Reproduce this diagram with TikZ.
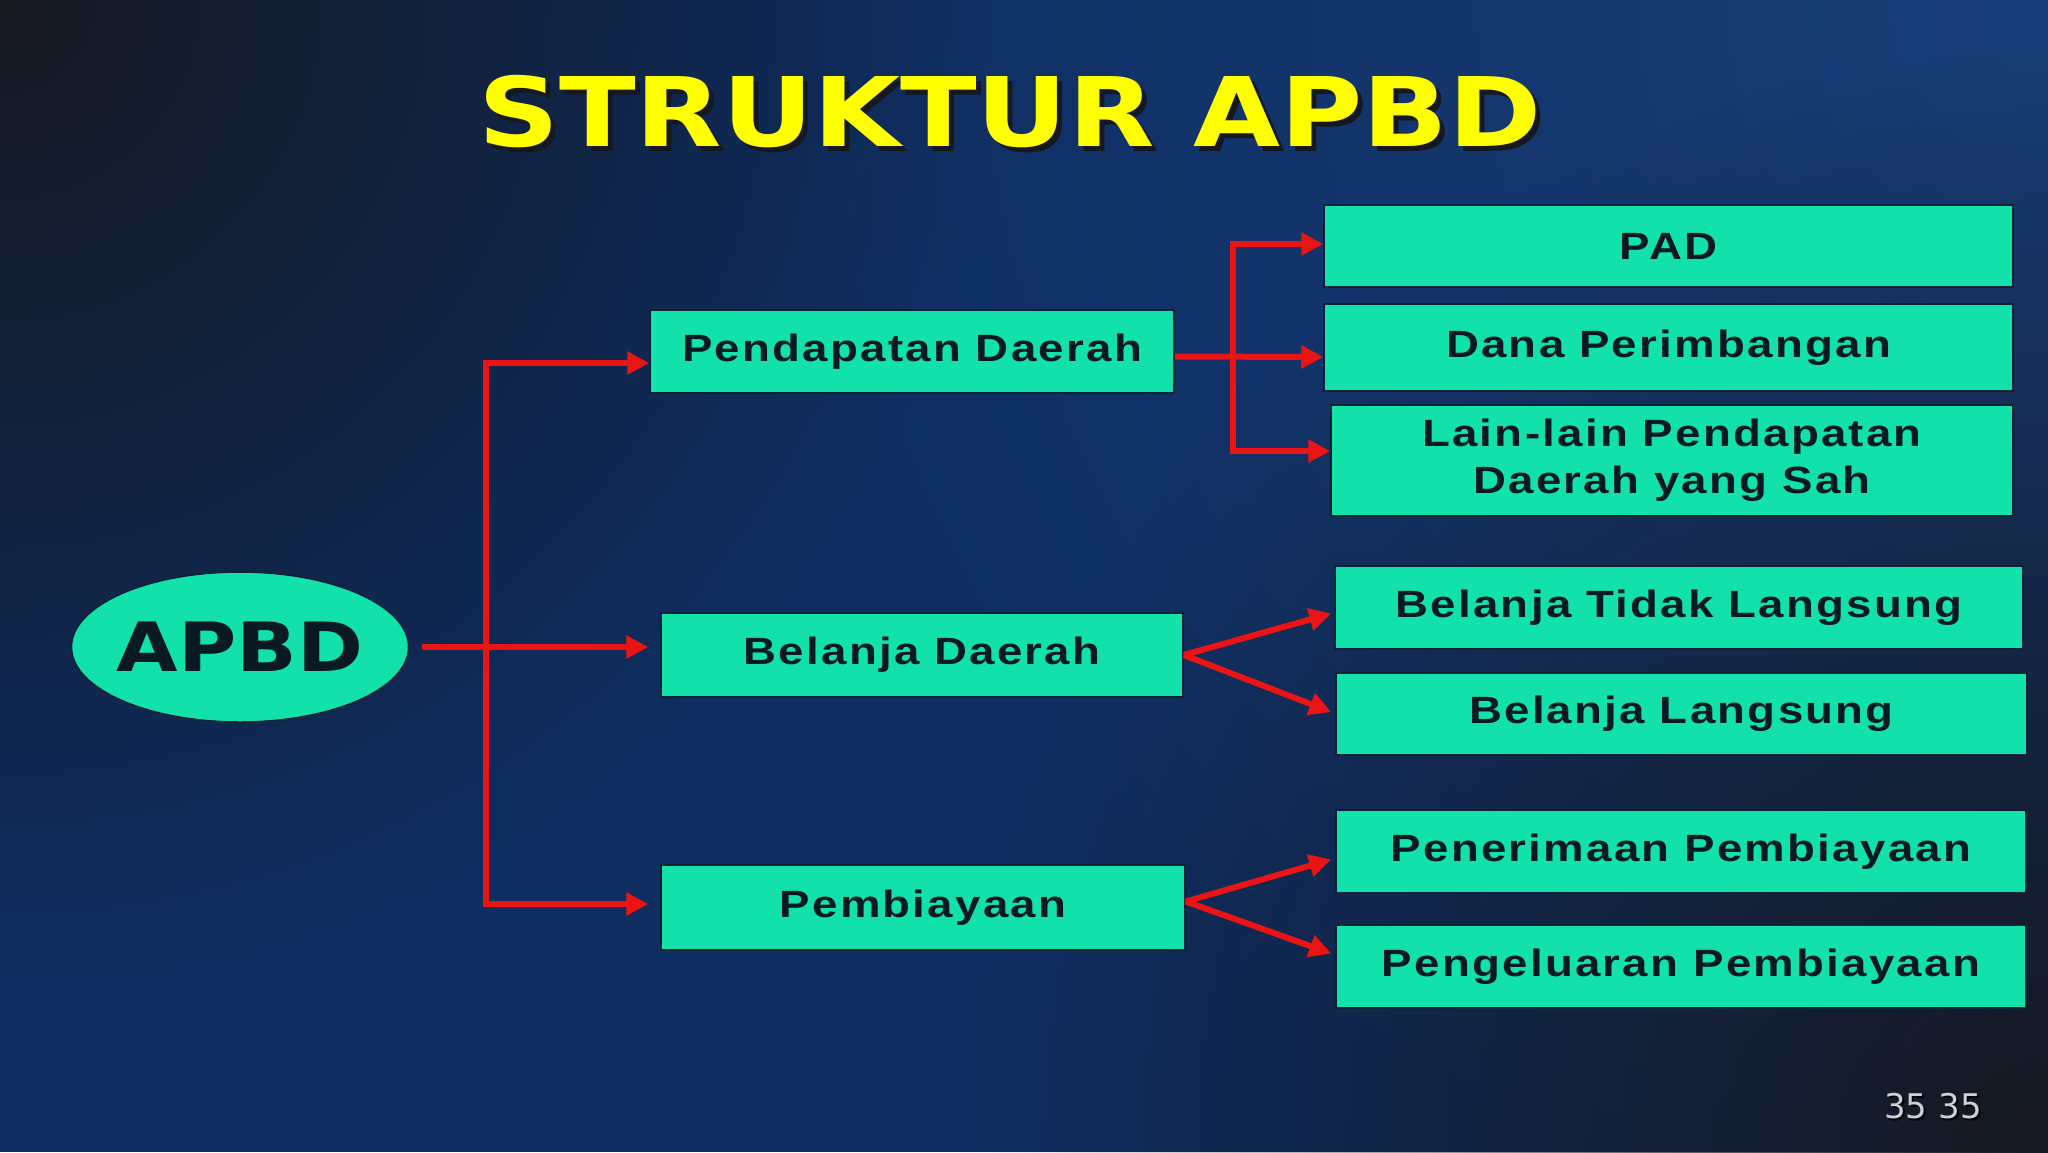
\documentclass[tikz,border=0pt]{standalone}
\usepackage{fontspec}
\usetikzlibrary{arrows.meta,shapes.geometric,calc,fadings}
\newfontfamily\titlefont[FakeStretch=1.17]{DejaVu Sans}
\newfontfamily\boxfont[FakeStretch=1.2,LetterSpace=6]{Liberation Sans}
\newfontfamily\pagefont{DejaVu Sans}
\definecolor{bgnavy}{RGB}{14,46,98}
\definecolor{bgdark}{RGB}{22,24,32}
\definecolor{bglight}{RGB}{26,62,120}
\definecolor{boxgreen}{RGB}{18,226,170}
\definecolor{boxedge}{RGB}{12,34,56}
\definecolor{boxtext}{RGB}{10,26,36}
\definecolor{arrred}{RGB}{235,20,20}
\definecolor{titleyellow}{RGB}{255,255,0}
\definecolor{pagegrey}{RGB}{205,208,215}
\tikzfading[name=softspot, inner color=transparent!0, outer color=transparent!100]
\tikzset{
  bx/.style={rectangle, fill=boxgreen, draw=boxedge, line width=1.5pt, text=boxtext, inner sep=0pt,
    font=\boxfont\bfseries\fontsize{38}{47}\selectfont, align=center},
  oval/.style={ellipse, fill=boxgreen, draw=boxedge, line width=1.5pt, text=boxtext, inner sep=0pt, inner xsep=-8pt,
    minimum width=337pt, minimum height=150pt,
    font=\titlefont\bfseries\fontsize{68}{80}\selectfont},
  conn/.style={draw=arrred, line width=6pt, line join=miter},
  arr/.style={conn, -{Triangle[length=22pt,width=22pt]}},
}
\begin{document}
\begin{tikzpicture}[x=1pt,y=-1pt]
\useasboundingbox (0,0) rectangle (2048,1152);
\begin{scope}
\clip (0,0) rectangle (2048,1152);
\fill[bgnavy] (0,0) rectangle (2048,1152);
\fill[bglight, path fading=softspot] (2048,0) circle (1300);
\fill[bgdark, path fading=softspot] (0,0) circle (1000);
\fill[bgdark, path fading=softspot] (2048,1152) circle (1100);
\end{scope}

% title
\node[anchor=base, text=bgdark, font=\titlefont\bfseries\fontsize{96}{110}\selectfont] (titleshadow) at (1015,151) {STRUKTUR APBD};
\node[anchor=base, text=titleyellow, font=\titlefont\bfseries\fontsize{96}{110}\selectfont] (title) at (1010,146) {STRUKTUR APBD};

% nodes
\node[oval] (APBD) at (240,647) {APBD};
\node[bx, minimum width=524pt, minimum height=83pt] (PD) at (912,351.5) {Pendapatan Daerah};
\node[bx, minimum width=522pt, minimum height=84pt] (BD) at (922,655) {Belanja Daerah};
\node[bx, minimum width=524pt, minimum height=85pt] (PB) at (923,907.5) {Pembiayaan};

\node[bx, minimum width=689pt, minimum height=82pt] (PAD) at (1668.5,246) {PAD};
\node[bx, minimum width=689pt, minimum height=87pt] (DP) at (1668.5,347.5) {Dana Perimbangan};
\node[bx, minimum width=682pt, minimum height=111pt] (LL) at (1672,460.5) {Lain-lain Pendapatan\\Daerah yang Sah};
\node[bx, minimum width=688pt, minimum height=83pt] (BTL) at (1679,607.5) {Belanja Tidak Langsung};
\node[bx, minimum width=691pt, minimum height=82pt] (BL) at (1681.5,714) {Belanja Langsung};
\node[bx, minimum width=690pt, minimum height=83pt] (PP) at (1681,851.5) {Penerimaan Pembiayaan};
\node[bx, minimum width=690pt, minimum height=83pt] (PGP) at (1681,966.5) {Pengeluaran Pembiayaan};

% page number
\node[anchor=base, text=black, font=\pagefont\fontsize{34}{40}\selectfont] (pgs) at (1935,1120) {35 35};
\node[anchor=base, text=pagegrey, font=\pagefont\fontsize{34}{40}\selectfont] (pg) at (1933,1118) {35 35};

% trunk from APBD
\coordinate (tt) at (486,363);
\coordinate (tb) at (486,904);
\coordinate (tm) at (486,600);
\draw[arr, shorten <=13pt, shorten >=12pt] (APBD.east) -- (APBD.east -| BD.west);
\draw[arr] (tm) -- (tt) -- (tt -| PD.west);
\draw[arr, shorten >=12pt] (tm) -- (tb) -- (tb -| PB.west);

% Pendapatan branches
\coordinate (jt) at (1233,244);
\coordinate (jb) at (1233,451);
\coordinate (jm) at (1233,357);
\draw[arr] ($(PD.east)+(0,5)$) -- (jm -| DP.west);
\draw[arr] (jm) -- (jt) -- (jt -| PAD.west);
\draw[arr] (jm) -- (jb) -- (jb -| LL.west);

% Belanja branches
\draw[arr] (BD.east) -- ($(BTL.west)+(-3,6)$);
\draw[arr] (BD.east) -- ($(BL.west)+(-4,-2)$);

% Pembiayaan branches
\draw[arr] ($(PB.east)+(0,-6)$) -- ($(PP.west)+(-4,8)$);
\draw[arr] ($(PB.east)+(0,-6)$) -- ($(PGP.west)+(-4,-13)$);
\end{tikzpicture}
\end{document}
